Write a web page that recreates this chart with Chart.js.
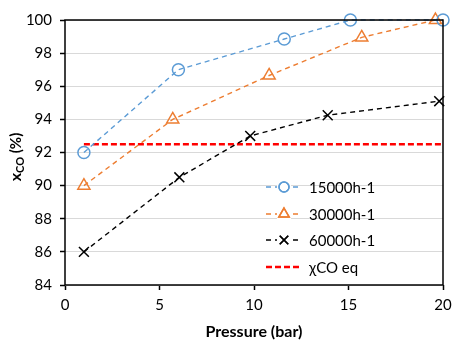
<!DOCTYPE html>
<html>
<head>
<meta charset="utf-8">
<script src="https://cdn.jsdelivr.net/npm/chart.js@4"></script>
<style>
  html, body { margin: 0; padding: 0; background: #fff; }
  #wrap { width: 474px; height: 354px; }
</style>
</head>
<body>
<div id="wrap"><canvas id="myChart" width="474" height="354"></canvas></div>
<script>
// Data
const p15k = [1, 6, 11.6, 15.1, 20];
const x15k = [92, 97, 98.85, 100, 100];
const p30k = [1, 5.7, 10.8, 15.7, 19.6];
const x30k = [90, 94, 96.65, 98.95, 100];
const p60k = [1, 6.05, 9.8, 13.9, 19.8];
const x60k = [86, 90.5, 93, 94.25, 95.1];
const pEq = [1, 20];
const xEq = [92.5, 92.5];
const seriesNames = ['15000h-1', '30000h-1', '60000h-1', 'χCO eq'];
const xTicks = [0, 5, 10, 15, 20];
const yTicks = [84, 86, 88, 90, 92, 94, 96, 98, 100];

const FONT = 'Lato, "Open Sans", sans-serif';
const toXY = (xs, ys) => xs.map((x, i) => ({ x: x, y: ys[i] }));

const datasets = [
    { label: seriesNames[0], data: toXY(p15k, x15k), borderColor: '#5B9BD5', pointStyle: 'circle', pointRadius: 6 },
    { label: seriesNames[1], data: toXY(p30k, x30k), borderColor: '#ED7D31', pointStyle: 'triangle', pointRadius: 7 },
    { label: seriesNames[2], data: toXY(p60k, x60k), borderColor: '#000000', pointStyle: 'crossRot', pointRadius: 7 },
    { label: seriesNames[3], data: toXY(pEq, xEq), borderColor: '#FF0000', pointStyle: false, pointRadius: 0, borderWidth: 2.5, borderDash: [6, 3] }
].map(d => Object.assign({
    showLine: true,
    borderWidth: 1.4,
    borderDash: [5, 4],
    pointBackgroundColor: 'rgba(0,0,0,0)',
    pointBorderColor: d.borderColor,
    pointBorderWidth: 1.5,
    backgroundColor: 'rgba(0,0,0,0)',
    clip: false
}, d));

// frame + y title with subscript + legend inside plot
const extras = {
    id: 'extras',
    afterDraw(chart) {
        const ctx = chart.ctx;
        const a = chart.chartArea;
        ctx.save();
        ctx.strokeStyle = '#000';
        ctx.lineWidth = 1.5;
        ctx.setLineDash([]);
        ctx.strokeRect(a.left, a.top, a.right - a.left, a.bottom - a.top);

        // y axis title: x_CO (%)
        ctx.translate(16, 157);
        ctx.rotate(-Math.PI / 2);
        ctx.fillStyle = '#000';
        ctx.textBaseline = 'middle';
        ctx.font = 'bold 16px ' + FONT;
        const w1 = ctx.measureText('x').width;
        ctx.font = 'bold 11px ' + FONT;
        const w2 = ctx.measureText('CO').width;
        ctx.font = 'bold 15px ' + FONT;
        const w3 = ctx.measureText(' (%)').width;
        let x0 = -(w1 + w2 + w3) / 2;
        ctx.font = 'bold 16px ' + FONT;
        ctx.fillText('x', x0, 0);
        ctx.font = 'bold 11px ' + FONT;
        ctx.fillText('CO', x0 + w1, 4);
        ctx.font = 'bold 15px ' + FONT;
        ctx.fillText(' (%)', x0 + w1 + w2, 0);
        ctx.restore();

        // legend
        const rows = [187, 214, 240, 267];
        chart.data.datasets.forEach((ds, i) => {
            const y = rows[i];
            ctx.save();
            ctx.strokeStyle = ds.borderColor;
            ctx.lineWidth = ds.borderWidth;
            ctx.setLineDash(ds.borderDash);
            ctx.beginPath();
            ctx.moveTo(266, y);
            ctx.lineTo(302, y);
            ctx.stroke();
            if (ds.pointStyle) {
                ctx.setLineDash([]);
                ctx.fillStyle = '#fff';
                ctx.fillRect(277, y - 7, 14, 14);
                Chart.helpers.drawPoint(ctx, {
                    pointStyle: ds.pointStyle,
                    radius: ds.pointRadius - 1,
                    borderWidth: ds.pointBorderWidth
                }, 284, y);
                ctx.strokeStyle = ds.borderColor;
                ctx.lineWidth = ds.pointBorderWidth;
                ctx.stroke();
            }
            ctx.fillStyle = '#000';
            ctx.font = '15px ' + FONT;
            ctx.textBaseline = 'middle';
            ctx.fillText(ds.label, 309, y + 1);
            ctx.restore();
        });
    }
};

const ctx = document.getElementById('myChart').getContext('2d');
const myChart = new Chart(ctx, {
    type: 'scatter',
    data: { datasets: datasets },
    options: {
        responsive: false,
        animation: false,
        layout: { padding: { top: 20, right: 31, left: 0, bottom: 0 } },
        plugins: { legend: { display: false }, tooltip: { enabled: false } },
        scales: {
            x: {
                type: 'linear',
                min: 0, max: 20,
                afterBuildTicks: s => { s.ticks = xTicks.map(v => ({ value: v })); },
                afterFit: s => { s.height = 69; },
                grid: { drawOnChartArea: false, tickLength: 5, tickColor: '#000', tickWidth: 1.5 },
                border: { display: false },
                ticks: { color: '#000', padding: 6, font: { family: FONT, size: 15 } },
                title: { display: true, text: 'Pressure (bar)', color: '#000', padding: { top: 0, bottom: 13 }, font: { family: FONT, size: 16, weight: 'bold' } }
            },
            y: {
                type: 'linear',
                min: 84, max: 100,
                afterBuildTicks: s => { s.ticks = yTicks.map(v => ({ value: v })); },
                afterFit: s => { s.width = 65; },
                grid: { color: '#D9D9D9', lineWidth: 1, tickLength: 5, tickColor: '#000', tickWidth: 1.5 },
                border: { display: false },
                ticks: { color: '#000', padding: 8, font: { family: FONT, size: 15 } }
            }
        }
    },
    plugins: [extras]
});
</script>
</body>
</html>
